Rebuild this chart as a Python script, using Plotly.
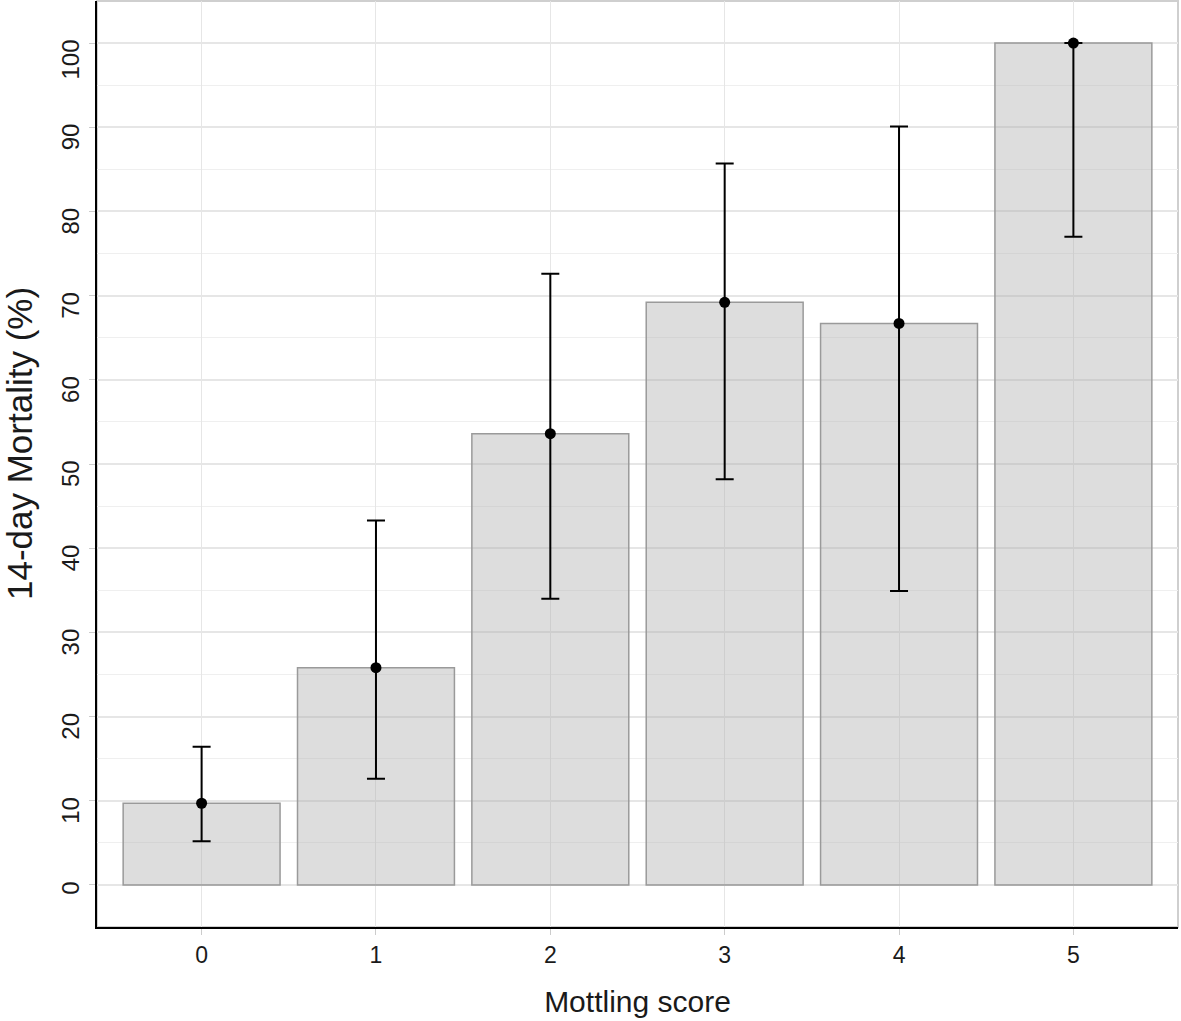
import plotly.graph_objects as go

scores = [0, 1, 2, 3, 4, 5]
mortality = [9.7, 25.8, 53.6, 69.2, 66.7, 100.0]
ci_upper = [16.4, 43.3, 72.6, 85.7, 90.1, 100.0]
ci_lower = [5.2, 12.6, 34.0, 48.2, 34.9, 77.0]
y_ticks = list(range(0, 101, 10))

err_plus = [u - m for u, m in zip(ci_upper, mortality)]
err_minus = [m - l for m, l in zip(mortality, ci_lower)]

font_family = "Liberation Sans, Arial, sans-serif"
NB = "\u00a0"

fig = go.Figure()
fig.add_trace(go.Bar(
    x=scores, y=mortality, width=0.9,
    marker=dict(color="rgba(175,175,175,0.42)",
                line=dict(color="#9a9a9a", width=1.5)),
    showlegend=False, hoverinfo="skip",
))
fig.add_trace(go.Scatter(
    x=scores, y=mortality, mode="markers",
    marker=dict(color="black", size=11),
    error_y=dict(type="data", array=err_plus, arrayminus=err_minus,
                 symmetric=False, color="black", thickness=2, width=9),
    showlegend=False,
))

fig.update_layout(
    width=1181, height=1021,
    margin=dict(l=97, r=3, t=1, b=94),
    plot_bgcolor="white", paper_bgcolor="white",
    font=dict(family=font_family, color="black"),
    shapes=[dict(type="rect", xref="paper", yref="paper", x0=0, y0=0, x1=1, y1=1,
                 line=dict(color="#cfcfcf", width=2), layer="below")],
    annotations=[dict(text="14-day Mortality (%)", textangle=-90,
                      xref="paper", yref="paper", x=-0.0712, y=0.5216,
                      xanchor="center", yanchor="middle", showarrow=False,
                      font=dict(size=35, color="#1a1a1a"))],
)
fig.update_xaxes(
    range=[-0.6, 5.6], tickvals=scores, ticktext=[str(s) for s in scores],
    showgrid=True, gridcolor="#e6e6e6", gridwidth=1,
    showline=True, linecolor="black", linewidth=2,
    ticks="outside", ticklen=6, tickcolor="#cccccc", tickwidth=1,
    tickfont=dict(size=23, color="#1a1a1a"),
    title=dict(text="Mottling score", font=dict(size=30, color="#1a1a1a"), standoff=24),
    zeroline=False, automargin=False,
)
fig.update_yaxes(
    range=[-5, 105], tickvals=y_ticks,
    ticktext=[str(v) + NB * (2 * len(str(v))) for v in y_ticks],
    tickangle=-90, ticklabeloverflow="allow",
    showgrid=True, gridcolor="#e6e6e6", gridwidth=1.5,
    minor=dict(dtick=5, showgrid=True, gridcolor="#efefef", gridwidth=1),
    showline=True, linecolor="black", linewidth=2,
    ticks="outside", ticklen=6, tickcolor="#cccccc", tickwidth=1,
    tickfont=dict(size=24, color="#1a1a1a"),
    zeroline=False, automargin=False,
)

fig.write_html("out.html", config={"displayModeBar": False},
               post_script="document.body.style.margin='0px';document.body.style.overflow='hidden';")
